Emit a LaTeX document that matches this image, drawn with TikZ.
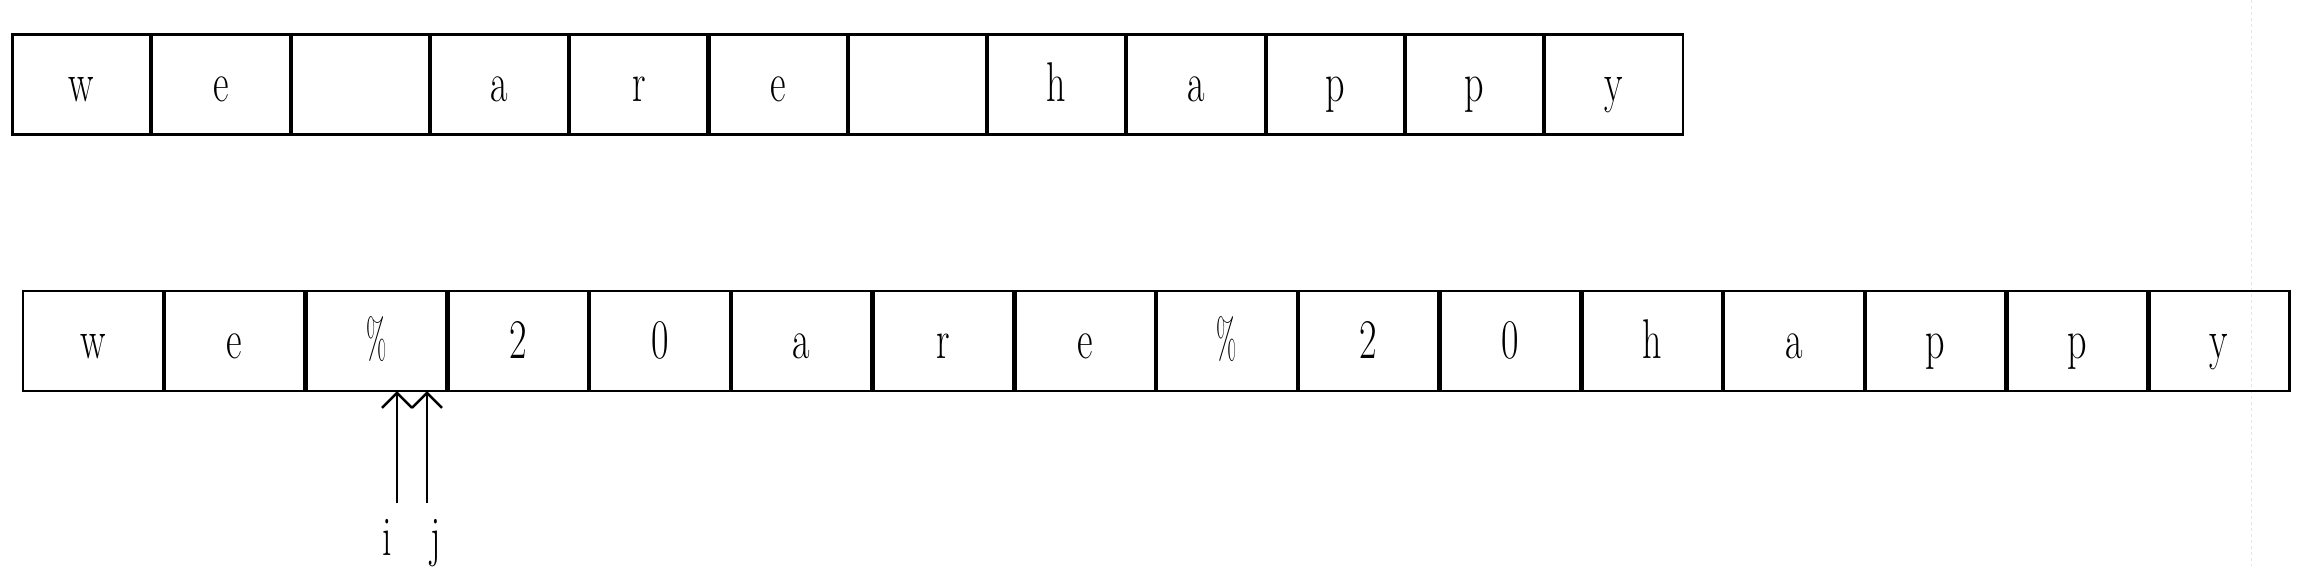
\documentclass[tikz,border=0pt]{standalone}
\usepackage{graphicx}
\usetikzlibrary{arrows.meta}
\newcommand{\nar}[1]{\scalebox{0.68}[1]{#1}}
\newcommand{\pct}{\scalebox{0.47}[1]{\%}}
\tikzset{
  cell/.style={draw=black, line width=2.8pt, rectangle, inner sep=0pt, outer sep=0pt,
    minimum height=100pt, text height=40pt, text depth=6pt,
    font=\fontsize{56}{58}\selectfont},
  topcell/.style={cell, minimum width=138pt},
  botcell/.style={cell, minimum width=140pt},
  ptr/.style={line width=2.6pt, -{Straight Barb[length=15pt,width=30pt,line width=2.6pt]}},
  lbl/.style={inner sep=0pt, anchor=base, font=\fontsize{56}{58}\selectfont}
}
\begin{document}
\begin{tikzpicture}[x=1pt,y=-1pt]
\useasboundingbox (0,0) rectangle (2315,566);
\draw[gray!20, line width=1pt, dashed] (2251,0) -- (2251,566);
% top row
\foreach \t [count=\k] in {w,e,{},a,r,e,{},h,a,p,p,y}{
  \node[topcell] (t\k) at ({81.6+139.3*(\k-1)},84.5) {\nar{\t}};
}
% bottom row
\foreach \t [count=\k] in {{\nar{w}},{\nar{e}},{\pct},{\nar{2}},{\nar{0}},{\nar{a}},{\nar{r}},{\nar{e}},{\pct},{\nar{2}},{\nar{0}},{\nar{h}},{\nar{a}},{\nar{p}},{\nar{p}},{\nar{y}}}{
  \node[botcell] (b\k) at ({92.9+141.75*(\k-1)},341) {\t};
}
% pointers
\coordinate (ia) at (397,503);
\coordinate (ja) at (427,503);
\draw[ptr] (ia) -- (ia |- b3.south);
\draw[ptr] (ja) -- (ja |- b3.south);
\node[lbl] (li) at (387,555) {\nar{i}};
\node[lbl] (lj) at (436,555) {\nar{j}};
\end{tikzpicture}
\end{document}
